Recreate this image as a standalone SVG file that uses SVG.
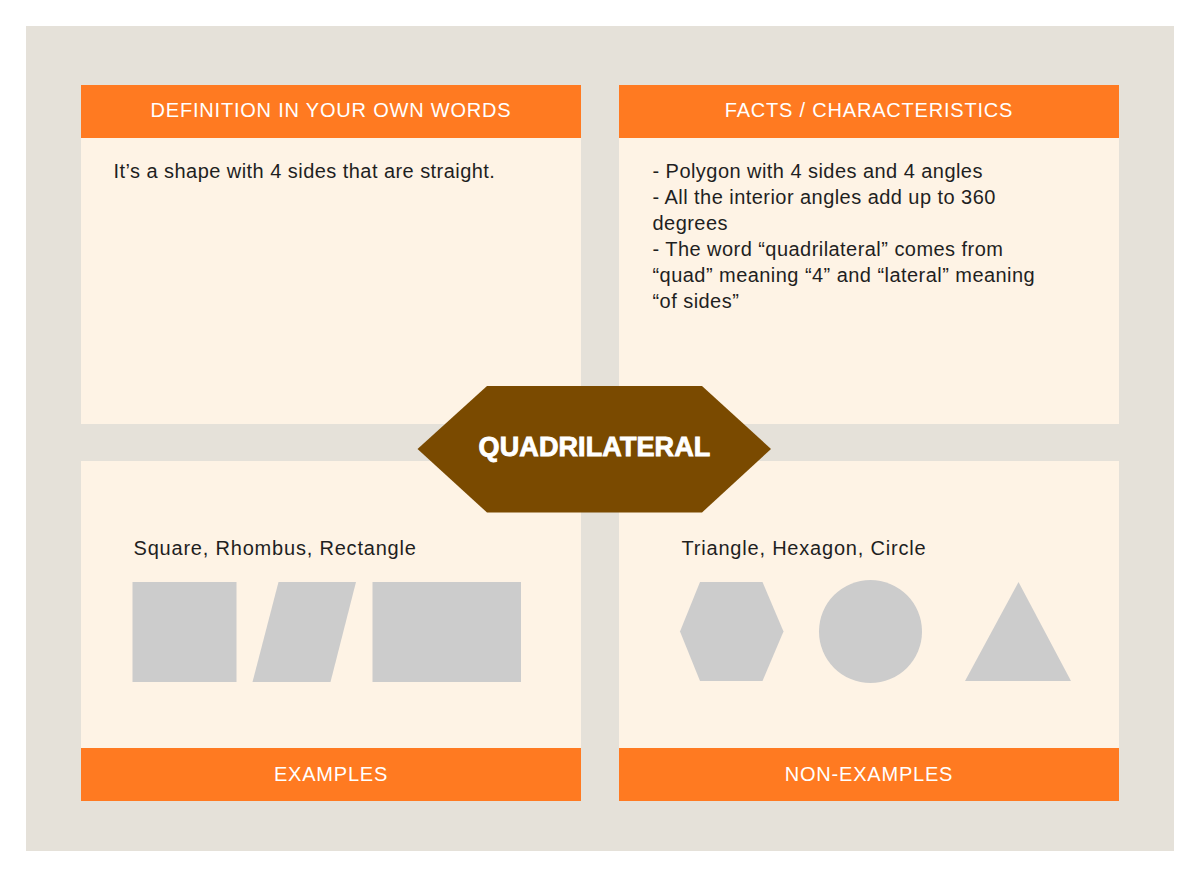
<svg xmlns="http://www.w3.org/2000/svg" width="1200" height="877" viewBox="0 0 1200 877">
<style>
.panel{fill:#fef3e5}
.band{fill:#ff7a21}
.band-text{font-family:"Liberation Sans",Arial,sans-serif;font-size:20px;fill:#ffffff;letter-spacing:0.8px;text-anchor:middle}
.body{font-family:"Liberation Sans",Arial,sans-serif;font-size:20px;fill:#1f1f1f;letter-spacing:0.45px}
.label{letter-spacing:0.8px}
.shape{fill:#cccccc}
.title{font-family:"Liberation Sans",Arial,sans-serif;font-size:27px;font-weight:bold;fill:#ffffff;stroke:#ffffff;stroke-width:0.9px;letter-spacing:0.1px;text-anchor:middle}
</style>
<rect x="0" y="0" width="1200" height="877" fill="#ffffff"/>
<rect x="26" y="26" width="1148" height="825" fill="#e5e1d9"/>
<g id="definition">
<rect class="panel" x="81" y="85" width="500" height="339"/>
<rect class="band" x="81" y="85" width="500" height="53"/>
<text class="band-text" x="331" y="117">DEFINITION IN YOUR OWN WORDS</text>
<text class="body" x="113.5" y="178">It’s a shape with 4 sides that are straight.</text>
</g>
<g id="facts">
<rect class="panel" x="619" y="85" width="500" height="339"/>
<rect class="band" x="619" y="85" width="500" height="53"/>
<text class="band-text" x="869" y="117">FACTS / CHARACTERISTICS</text>
<text class="body" x="652.5" y="178">- Polygon with 4 sides and 4 angles</text>
<text class="body" x="652.5" y="204">- All the interior angles add up to 360</text>
<text class="body" x="652.5" y="230">degrees</text>
<text class="body" x="652.5" y="256">- The word “quadrilateral” comes from</text>
<text class="body" x="652.5" y="282">“quad” meaning “4” and “lateral” meaning</text>
<text class="body" x="652.5" y="308">“of sides”</text>
</g>
<g id="examples">
<rect class="panel" x="81" y="461" width="500" height="340"/>
<rect class="band" x="81" y="748" width="500" height="53"/>
<text class="band-text" x="331" y="781">EXAMPLES</text>
<text class="body label" x="133.5" y="555">Square, Rhombus, Rectangle</text>
<rect class="shape" x="132.5" y="582" width="104" height="100"/>
<polygon class="shape" points="278.5,582 356,582 330.5,682 252.5,682"/>
<rect class="shape" x="372.5" y="582" width="148.5" height="100"/>
</g>
<g id="non-examples">
<rect class="panel" x="619" y="461" width="500" height="340"/>
<rect class="band" x="619" y="748" width="500" height="53"/>
<text class="band-text" x="869" y="781">NON-EXAMPLES</text>
<text class="body label" x="681.5" y="555">Triangle, Hexagon, Circle</text>
<polygon class="shape" points="700,582 762.5,582 783.5,631.5 762.5,681 700,681 680,631.5"/>
<circle class="shape" cx="870.5" cy="631.5" r="51.5"/>
<polygon class="shape" points="1018.5,582 1071,681 965,681"/>
</g>
<g id="connectors"></g>
<g id="quadrilateral">
<polygon fill="#7a4a00" points="487,386 702,386 771,449 702,512.5 487,512.5 417.5,449"/>
<text class="title" x="594.5" y="456">QUADRILATERAL</text>
</g>
</svg>
